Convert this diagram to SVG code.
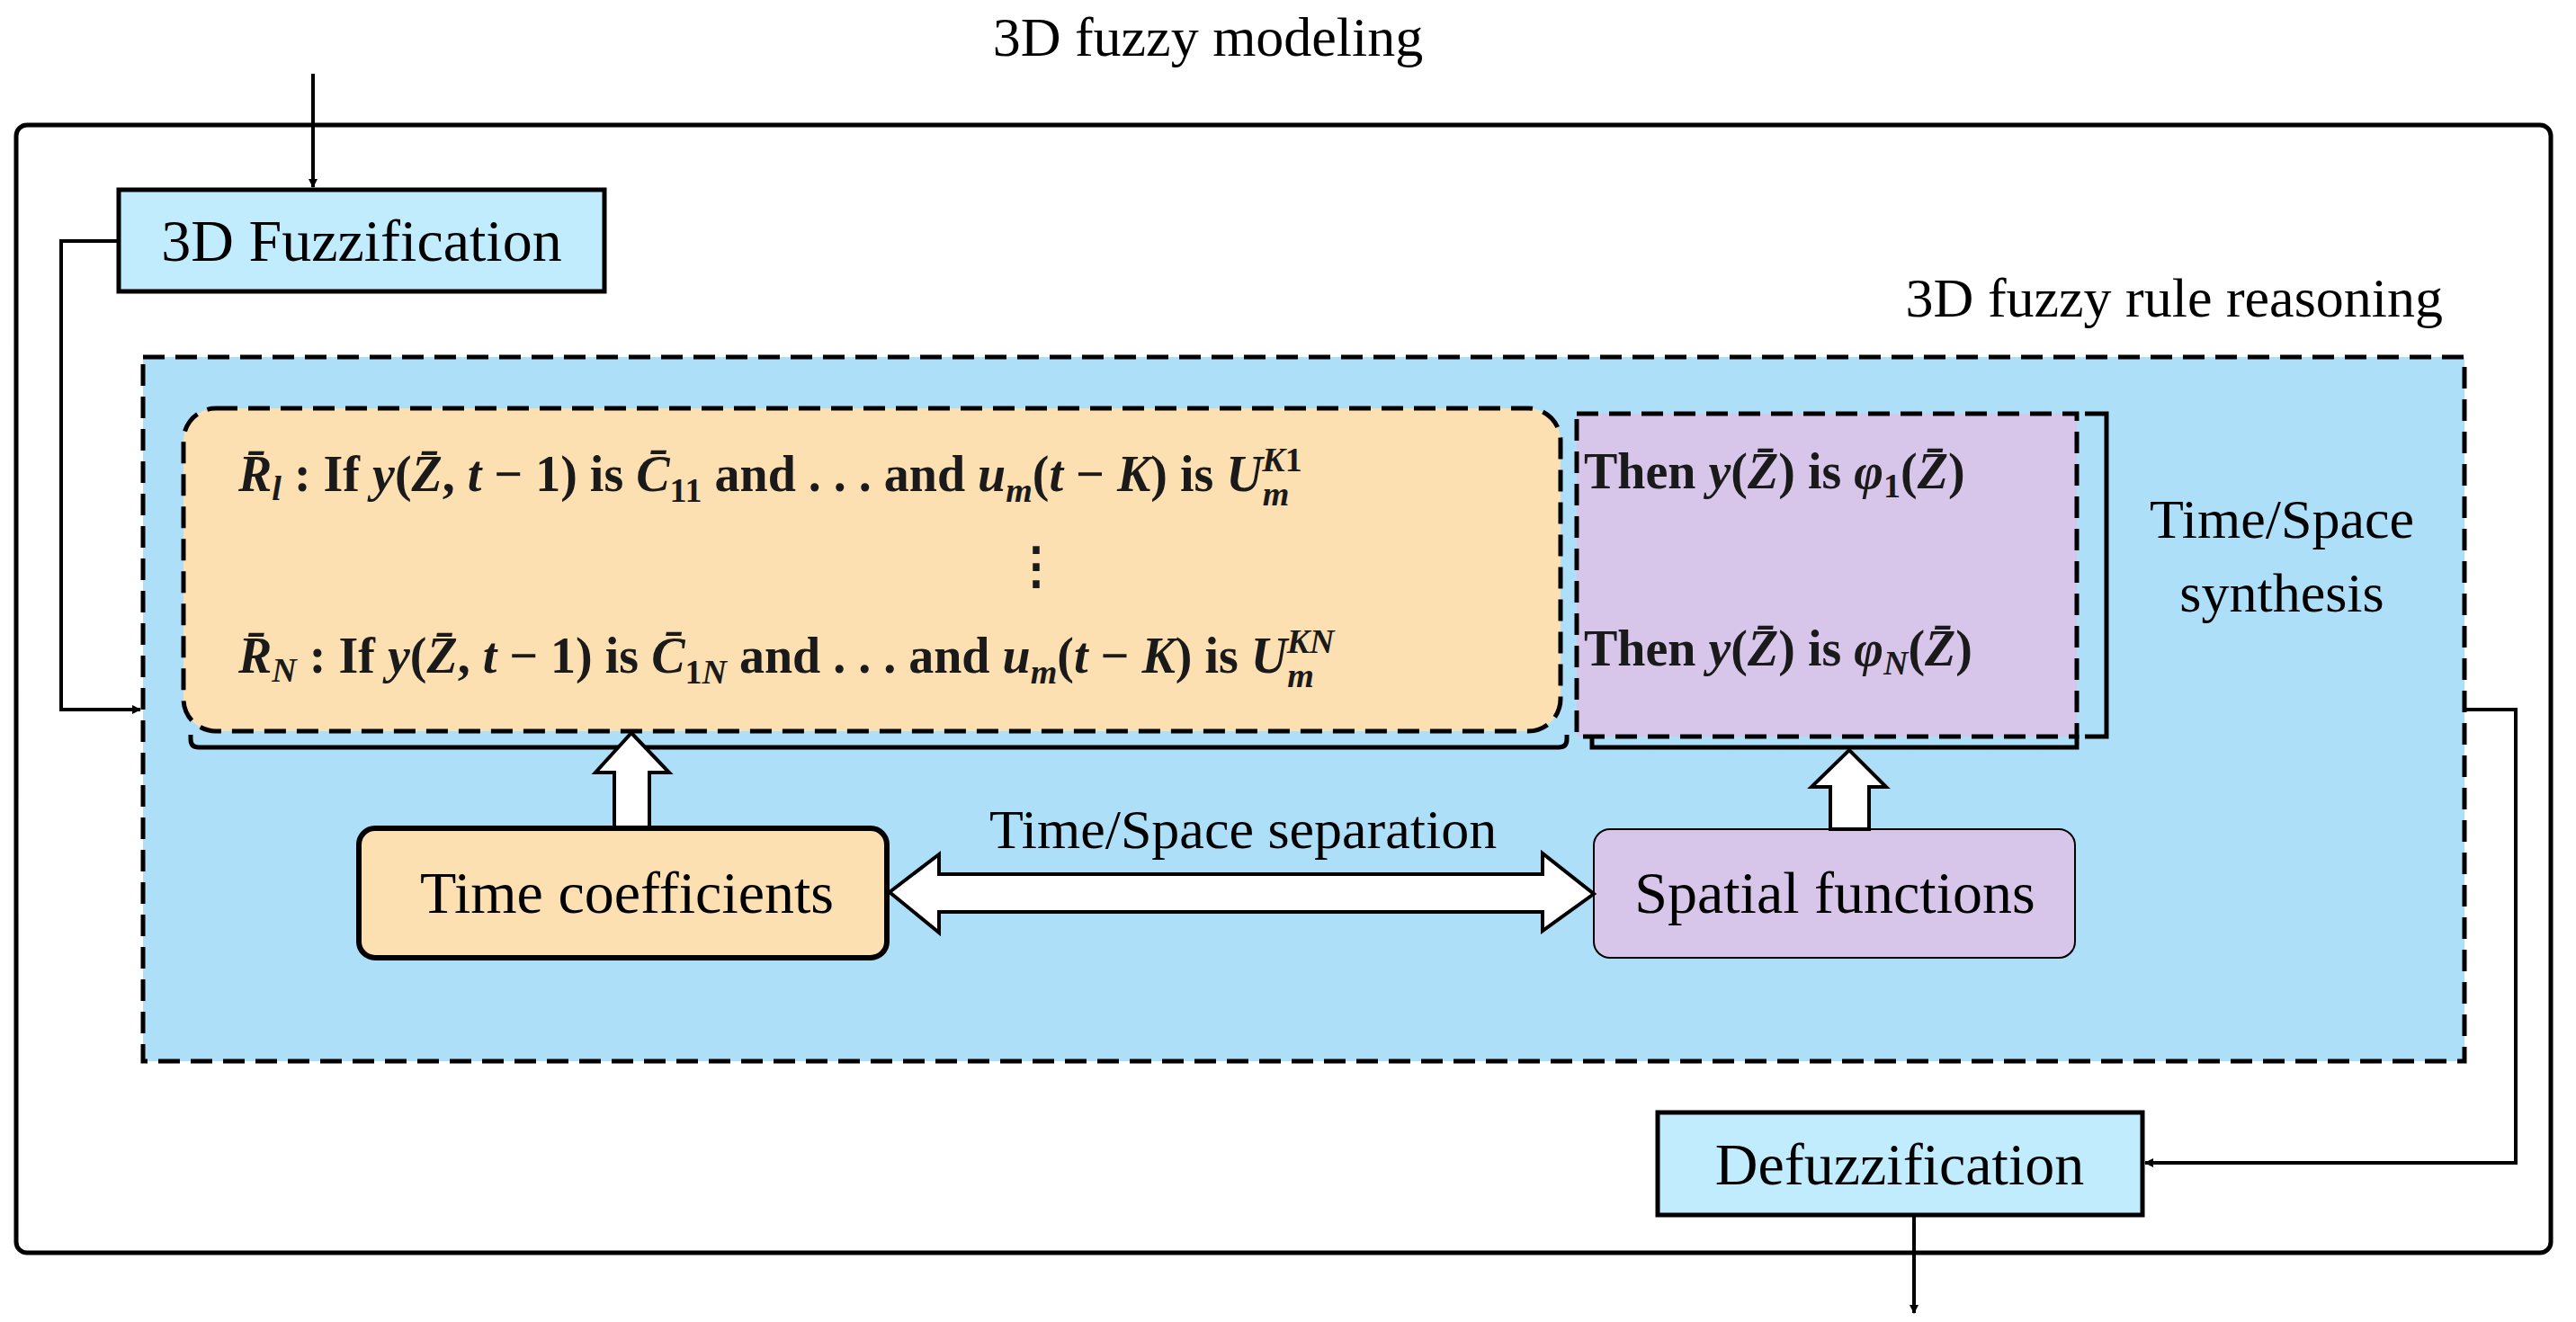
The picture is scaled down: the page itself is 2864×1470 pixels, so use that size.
<svg xmlns="http://www.w3.org/2000/svg" width="2864" height="1470" viewBox="0 0 2864 1470">
<defs>
<style>
.t{font-family:"Liberation Serif","Times New Roman",serif;fill:#000}
.m{font-family:"Liberation Serif","Times New Roman",serif;font-weight:bold;fill:#1a1a1a;font-size:56px}
.i{font-style:italic}
.sub{font-size:38px}
.line{fill:none;stroke:#000;stroke-width:5}
.dash{stroke:#000;stroke-width:5;stroke-dasharray:24 12}
.hollow{fill:#fff;stroke:#000;stroke-width:4;stroke-linejoin:miter}
</style>
<marker id="ah" markerWidth="10" markerHeight="10" refX="9" refY="5" orient="auto" markerUnits="userSpaceOnUse" viewBox="0 0 10 10"><path d="M0,0 L10,5 L0,10 z" fill="#000"/></marker>
</defs>
<rect width="2864" height="1470" fill="#fff"/>
<text class="t" x="1343" y="62" font-size="62" text-anchor="middle">3D fuzzy modeling</text>
<rect id="outer" x="18" y="139" width="2818" height="1254" rx="12" class="line"/>

<g id="rule-reasoning">
<rect x="159" y="397" width="2581" height="783" fill="#addff9" class="dash"/>
<text class="t" x="2716" y="352" font-size="62" text-anchor="end">3D fuzzy rule reasoning</text>
</g>

<g id="fuzzification">
<rect x="132" y="211" width="540" height="113" fill="#c1ecfd" stroke="#000" stroke-width="5"/>
<text class="t" x="402" y="290" font-size="66" text-anchor="middle">3D Fuzzification</text>
</g>

<g id="antecedents">
<rect x="204" y="454" width="1531" height="359" rx="36" fill="#fde0b2" class="dash"/>
<text class="m" x="265" y="546"><tspan class="i">R̄</tspan><tspan class="i sub" dy="10">l</tspan><tspan dy="-10"> : If </tspan><tspan class="i">y</tspan>(<tspan class="i">Z̄</tspan>, <tspan class="i">t</tspan> − 1) is <tspan class="i">C̄</tspan><tspan class="sub" dy="12">11</tspan><tspan dy="-12"> and  . . .  and </tspan><tspan class="i">u</tspan><tspan class="i sub" dy="12">m</tspan><tspan dy="-12">(</tspan><tspan class="i">t</tspan> − <tspan class="i">K</tspan>) is <tspan class="i">U</tspan><tspan class="i sub" dy="16">m</tspan><tspan class="i sub" dx="-30" dy="-38">K</tspan><tspan class="sub">1</tspan></text>
<text class="m" x="1152" y="648" text-anchor="middle">⋮</text>
<text class="m" x="265" y="748"><tspan class="i">R̄</tspan><tspan class="i sub" dy="10">N</tspan><tspan dy="-10"> : If </tspan><tspan class="i">y</tspan>(<tspan class="i">Z̄</tspan>, <tspan class="i">t</tspan> − 1) is <tspan class="i">C̄</tspan><tspan class="sub" dy="12">1</tspan><tspan class="i sub">N</tspan><tspan dy="-12"> and  . . .  and </tspan><tspan class="i">u</tspan><tspan class="i sub" dy="12">m</tspan><tspan dy="-12">(</tspan><tspan class="i">t</tspan> − <tspan class="i">K</tspan>) is <tspan class="i">U</tspan><tspan class="i sub" dy="16">m</tspan><tspan class="i sub" dx="-30" dy="-38">KN</tspan></text>
</g>

<g id="consequents">
<rect x="1753" y="460" width="556" height="359" fill="#d8c6ea" class="dash"/>
<text class="m" x="1761" y="543">Then <tspan class="i">y</tspan>(<tspan class="i">Z̄</tspan>) is <tspan class="i">φ</tspan><tspan class="sub" dy="10">1</tspan><tspan dy="-10">(</tspan><tspan class="i">Z̄</tspan>)</text>
<text class="m" x="1761" y="740">Then <tspan class="i">y</tspan>(<tspan class="i">Z̄</tspan>) is <tspan class="i">φ</tspan><tspan class="i sub" dy="10">N</tspan><tspan dy="-10">(</tspan><tspan class="i">Z̄</tspan>)</text>
</g>

<g id="synthesis">
<text class="t" x="2537" y="598" font-size="62" text-anchor="middle">Time/Space</text>
<text class="t" x="2537" y="680" font-size="62" text-anchor="middle">synthesis</text>
</g>

<g id="time-coefficients">
<rect x="399" y="921" width="587" height="144" rx="18" fill="#fde0b2" stroke="#000" stroke-width="6"/>
<text class="t" x="697" y="1015" font-size="66" text-anchor="middle">Time coefficients</text>
</g>

<g id="spatial-functions">
<rect x="1772" y="922" width="535" height="143" rx="18" fill="#d8c6ea" stroke="#000" stroke-width="2"/>
<text class="t" x="2040" y="1015" font-size="66" text-anchor="middle">Spatial functions</text>
</g>

<g id="defuzzification">
<rect x="1843" y="1237" width="539" height="114" fill="#c1ecfd" stroke="#000" stroke-width="5"/>
<text class="t" x="2112" y="1317" font-size="66" text-anchor="middle">Defuzzification</text>
</g>

<g id="connectors">
<path d="M212,817 V822 Q212,831 221,831 H1733 Q1742,831 1742,822 V817" class="line"/>
<path d="M1770,817 V831 H2309 V817" class="line"/>
<path d="M2318,460 H2342 V819 H2318" class="line"/>
<line x1="348" y1="82" x2="348" y2="208" class="line" marker-end="url(#ah)" style="stroke-width:4"/>
<path d="M132,268 H68 V789 H156" class="line" marker-end="url(#ah)" style="stroke-width:4"/>
<path d="M2740,789 H2797 V1293 H2385" class="line" marker-end="url(#ah)" style="stroke-width:4"/>
<line x1="2128" y1="1351" x2="2128" y2="1460" class="line" marker-end="url(#ah)" style="stroke-width:4"/>
<path d="M683,920 V859 H662 L702,815 L744,859 H722 V920 Z" class="hollow"/>
<path d="M2035,922 V875 H2014 L2056,834 L2097,875 H2078 V922 Z" class="hollow"/>
<path d="M989,992 L1044,950 V972 H1715 V949 L1772,994 L1715,1035 V1014 H1044 V1037 Z" class="hollow"/>
<text class="t" x="1100" y="943" font-size="62">Time/Space separation</text>
</g>
</svg>
